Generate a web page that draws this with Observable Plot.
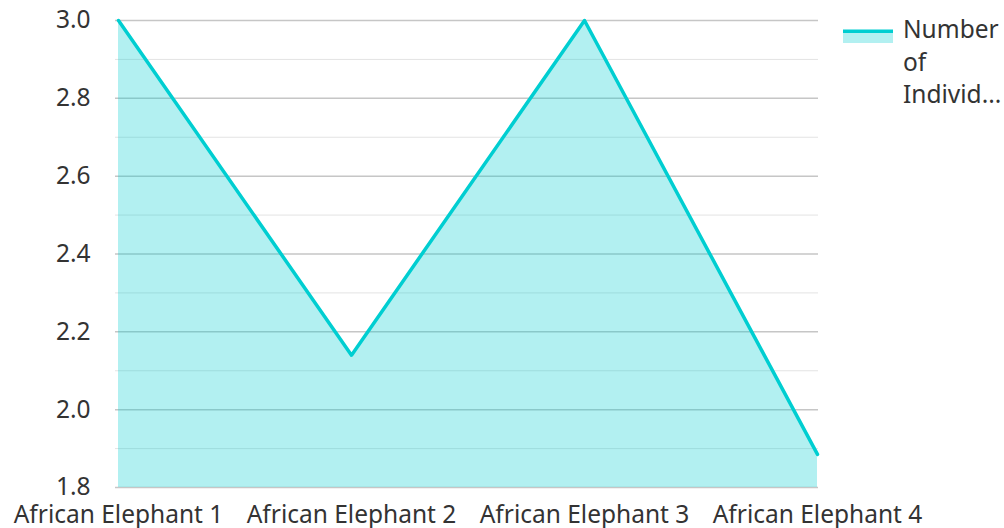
<!DOCTYPE html>
<html>
<head>
<meta charset="utf-8">
<script src="https://cdn.jsdelivr.net/npm/d3@7"></script>
<script src="https://cdn.jsdelivr.net/npm/@observablehq/plot@0.6"></script>
<style>
  html, body { margin: 0; padding: 0; background: #fff; }
  #chart { position: relative; width: 1004px; height: 528px; }
</style>
</head>
<body>
<div id="chart"></div>
<script>
const categories = ["African Elephant 1", "African Elephant 2", "African Elephant 3", "African Elephant 4"];
const values = [3.0, 2.14, 3.0, 1.885];
const seriesName = "Number of Individuals";
const legendLines = ["Number", "of", "Individ..."];
const majorTicks = [1.8, 2.0, 2.2, 2.4, 2.6, 2.8, 3.0];
const minorTicks = [1.9, 2.1, 2.3, 2.5, 2.7, 2.9];
const yDomain = [1.8, 3.0];

const data = categories.map((c, i) => ({name: c, value: values[i]}));
const lineColor = "#00CED1";
const textColor = "#333333";
const fontFamily = "'Noto Sans', 'Open Sans', sans-serif";
const fontSize = 24.5;

const plot = Plot.plot({
  width: 1004,
  height: 528,
  marginLeft: 117,
  marginRight: 186,
  marginTop: 20,
  marginBottom: 41,
  style: {fontFamily, fontSize: fontSize + "px", color: textColor, background: "#fff"},
  x: {type: "point", domain: categories, padding: 0, label: null},
  y: {domain: yDomain, label: null},
  marks: [
    Plot.ruleY(minorTicks, {stroke: "#e3e3e3", strokeWidth: 1, insetLeft: -2}),
    Plot.ruleY(majorTicks, {stroke: "#c6c6c6", strokeWidth: 1.5, insetLeft: -2}),
    Plot.areaY(data, {x: "name", y1: () => yDomain[0], y2: "value", fill: lineColor, fillOpacity: 0.3, curve: "linear"}),
    Plot.lineY(data, {x: "name", y: "value", stroke: lineColor, strokeWidth: 3.5, curve: "linear"}),
    Plot.axisY({ticks: majorTicks, tickFormat: d3.format(".1f"), tickSize: 0, tickPadding: 27, fill: textColor, fontSize, label: null}),
    Plot.axisX({tickSize: 0, tickPadding: 18, fill: textColor, fontSize, label: null})
  ]
});

document.getElementById("chart").appendChild(plot);

// Legend (to the right of the plot)
const svg = d3.select(plot);
const lg = svg.append("g").attr("aria-label", "legend: " + seriesName);
lg.append("rect").attr("x", 843).attr("y", 32).attr("width", 50).attr("height", 11)
  .attr("fill", lineColor).attr("fill-opacity", 0.3);
lg.append("rect").attr("x", 843).attr("y", 29.5).attr("width", 50).attr("height", 3.5)
  .attr("fill", lineColor);
const t = lg.append("text").attr("x", 903).attr("y", 38)
  .attr("fill", textColor).attr("font-size", fontSize)
  .attr("text-anchor", "start")
  .attr("font-family", fontFamily);
legendLines.forEach((s, i) => {
  t.append("tspan").attr("x", 903).attr("dy", i === 0 ? 0 : 32.5).text(s);
});
</script>
</body>
</html>
